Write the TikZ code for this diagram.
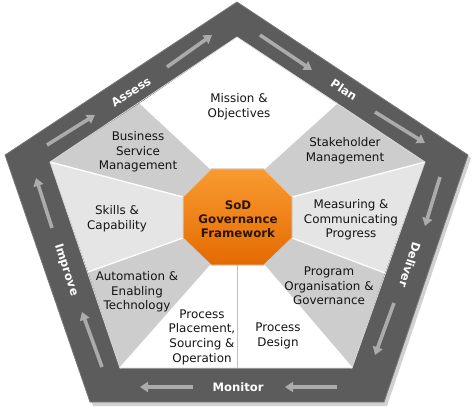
\documentclass[tikz,border=0pt]{standalone}
\usepackage{fontspec}
\setmainfont{DejaVu Sans}
\usetikzlibrary{arrows.meta}
\definecolor{band}{HTML}{5C5C5C}
\definecolor{bandedge}{HTML}{7A7A7A}
\definecolor{arr}{HTML}{ABABAB}
\definecolor{segdark}{HTML}{CDCDCD}
\definecolor{seglight}{HTML}{E5E5E5}
\definecolor{octtop}{HTML}{F99B30}
\definecolor{octbot}{HTML}{E46A02}
\definecolor{octtext}{HTML}{2A1600}
\definecolor{segtext}{HTML}{141414}
\tikzset{
  seglbl/.style={align=center, text=segtext, inner sep=0pt,
    font=\fontsize{11.9}{14.6}\selectfont},
  bandlbl/.style={text=white, inner sep=0pt,
    font=\fontsize{11.6}{13}\selectfont\bfseries},
  octlbl/.style={align=center, text=octtext, inner sep=0pt,
    font=\fontsize{11.8}{14.2}\selectfont\bfseries},
  bandarrow/.style={draw=arr, line width=3.6pt,
    -{Triangle[width=10pt,length=8pt]}},
  spoke/.style={draw=white, line width=1.3pt},
}
\begin{document}
\begin{tikzpicture}[x=1pt,y=-1pt]
\useasboundingbox (0,0) rectangle (474,409);
% outer pentagon (band)
\fill[black!18] (239,5) -- (471,158) -- (387,406) -- (93,406) -- (8,158) -- cycle;
\fill[band] (237,2) -- (468,155) -- (384,402) -- (90,402) -- (5,155) -- cycle;
\draw[bandedge, line width=0.8pt] (237,2) -- (468,155) -- (384,402) -- (90,402) -- (5,155) -- cycle;
% segments
\fill[white] (211,169) -- (140,103) -- (237,37) -- (337,103) -- (264,169) -- cycle;
\fill[segdark] (211,169) -- (140,103) -- (50,162) -- (183,197) -- cycle;
\fill[segdark] (264,169) -- (337,103) -- (425,162) -- (292,197) -- cycle;
\fill[seglight] (292,197) -- (425,162) -- (385,273) -- (292,238) -- cycle;
\fill[segdark] (292,238) -- (385,273) -- (352,368) -- (264,265) -- cycle;
\fill[white] (264,265) -- (352,368) -- (237.5,368) -- (237.5,265) -- cycle;
\fill[white] (237.5,265) -- (237.5,368) -- (120,368) -- (211,265) -- cycle;
\fill[segdark] (211,265) -- (120,368) -- (88,272) -- (183,238) -- cycle;
\fill[seglight] (183,238) -- (88,272) -- (50,162) -- (183,197) -- cycle;
% spokes
\draw[spoke] (211,169) -- (140,103);
\draw[spoke] (264,169) -- (337,103);
\draw[spoke] (292,197) -- (425,162);
\draw[spoke] (292,238) -- (385,273);
\draw[spoke] (264,265) -- (352,368);
\draw[black!25, line width=1pt] (237.5,265) -- (237.5,368);
\draw[spoke] (211,265) -- (120,368);
\draw[spoke] (183,238) -- (88,272);
\draw[spoke] (183,197) -- (50,162);
\draw[white!85!black, line width=0.8pt] (237,37) -- (425,162) -- (352,368) -- (120,368) -- (50,162) -- cycle;
% octagon
\shade[top color=octtop, bottom color=octbot, draw=white!80!black, line width=1pt]
  (211,169) -- (264,169) -- (292,197) -- (292,238) -- (264,265) -- (211,265) -- (183,238) -- (183,197) -- cycle;
% band arrows
\draw[bandarrow] (47,145) -- (95,115);
\draw[bandarrow] (167,67) -- (212,35);
\draw[bandarrow] (260,35) -- (312,70);
\draw[bandarrow] (375,112) -- (425,143);
\draw[bandarrow] (440,177) -- (425,226);
\draw[bandarrow] (394,303) -- (375,355);
\draw[bandarrow] (337,387) -- (285,387);
\draw[bandarrow] (193,387) -- (140,387);
\draw[bandarrow] (102,367) -- (82,312);
\draw[bandarrow] (52,228) -- (36,178);
% band labels
\node[bandlbl, rotate=33.4] (assess) at (131,92) {Assess};
\node[bandlbl, rotate=-33.4] (plan) at (344,90) {Plan};
\node[bandlbl, rotate=-107.6] (deliver) at (410,265) {Deliver};
\node[bandlbl] (monitor) at (238,387) {Monitor};
\node[bandlbl, rotate=-72] (improve) at (66,270) {Improve};
% segment labels
\node[seglbl] (mission) at (239,107) {Mission \&\\Objectives};
\node[seglbl] (bsm) at (138,152) {Business\\Service\\Management};
\node[seglbl] (stake) at (345,151) {Stakeholder\\Management};
\node[seglbl] (measure) at (351,220) {Measuring \&\\Communicating\\Progress};
\node[seglbl] (program) at (329,286) {Program\\Organisation \&\\Governance};
\node[seglbl] (design) at (278,336) {Process\\Design};
\node[seglbl] (placement) at (202,337) {Process\\Placement,\\Sourcing \&\\Operation};
\node[seglbl] (automation) at (137,292) {Automation \&\\Enabling\\Technology};
\node[seglbl] (skills) at (117,219) {Skills \&\\Capability};
\node[octlbl] (sod) at (238,219) {SoD\\Governance\\Framework};
\end{tikzpicture}
\end{document}
